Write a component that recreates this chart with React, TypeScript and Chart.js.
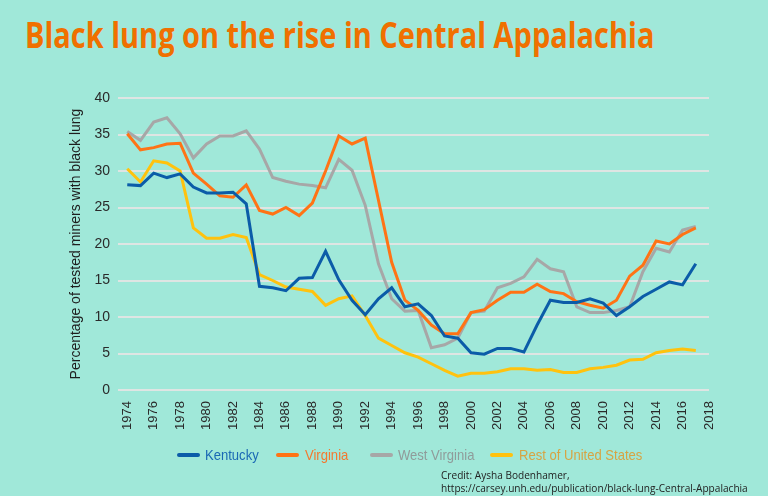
import React, { useEffect, useRef } from "react";
import { Chart, registerables } from "chart.js";

Chart.register(...registerables);

const years = [
  1974, 1975, 1976, 1977, 1978, 1979, 1980, 1981, 1982, 1983, 1984, 1985, 1986, 1987, 1988, 1989,
  1990, 1991, 1992, 1993, 1994, 1995, 1996, 1997, 1998, 1999, 2000, 2001, 2002, 2003, 2004, 2005,
  2006, 2007, 2008, 2009, 2010, 2011, 2012, 2013, 2014, 2015, 2016, 2017,
];

const kentucky = [
  28.1, 28.0, 29.7, 29.1, 29.6, 27.8, 27.0, 27.0, 27.1, 25.5, 14.2, 14.0, 13.6, 15.3, 15.4, 19.0,
  15.1, 12.3, 10.3, 12.5, 14.0, 11.4, 11.8, 10.2, 7.4, 7.1, 5.1, 4.9, 5.7, 5.7, 5.2, 8.9,
  12.3, 12.0, 12.0, 12.5, 11.9, 10.2, 11.4, 12.8, 13.8, 14.8, 14.4, 17.3,
];

const virginia = [
  35.1, 32.9, 33.2, 33.7, 33.8, 29.7, 28.2, 26.6, 26.4, 28.1, 24.6, 24.1, 25.0, 23.9, 25.6, 30.0,
  34.8, 33.7, 34.5, 26.0, 17.5, 12.3, 10.9, 8.9, 7.7, 7.7, 10.6, 11.0, 12.3, 13.4, 13.4, 14.5,
  13.5, 13.2, 12.1, 11.6, 11.2, 12.3, 15.6, 17.1, 20.4, 20.0, 21.3, 22.2,
];

const westVirginia = [
  35.4, 34.2, 36.7, 37.3, 35.1, 31.8, 33.7, 34.8, 34.8, 35.5, 33.0, 29.1, 28.6, 28.2, 28.0, 27.7,
  31.6, 30.1, 25.3, 17.3, 12.5, 10.8, 10.9, 5.8, 6.2, 7.1, 10.6, 10.8, 14.0, 14.6, 15.5, 17.9,
  16.6, 16.2, 11.4, 10.6, 10.6, 10.9, 11.4, 16.2, 19.4, 18.9, 21.9, 22.4,
];

const restOfUS = [
  30.3, 28.5, 31.4, 31.1, 30.0, 22.2, 20.8, 20.8, 21.3, 20.9, 15.8, 15.0, 14.1, 13.8, 13.5, 11.6,
  12.5, 12.9, 10.2, 7.1, 6.1, 5.1, 4.5, 3.6, 2.7, 1.9, 2.3, 2.3, 2.5, 2.9, 2.9, 2.7,
  2.8, 2.4, 2.4, 2.9, 3.1, 3.4, 4.1, 4.2, 5.1, 5.4, 5.6, 5.4,
];

const xTicks = [
  1974, 1976, 1978, 1980, 1982, 1984, 1986, 1988, 1990, 1992, 1994, 1996, 1998, 2000, 2002, 2004,
  2006, 2008, 2010, 2012, 2014, 2016, 2018,
];
const yTicks = [0, 5, 10, 15, 20, 25, 30, 35, 40];

const seriesNames = ["Kentucky", "Virginia", "West Virginia", "Rest of United States"];
const lineColors = ["#0b5ca8", "#ff7315", "#a7a7a7", "#ffc20e"];
const textColors = ["#1a68b4", "#f3782e", "#8f9c9a", "#d6a443"];

const BG = "#a0e8d9";
const FONT = "'Liberation Sans', Arial, sans-serif";

export default function App() {
  const ref = useRef<HTMLCanvasElement | null>(null);

  useEffect(() => {
    document.body.style.margin = "0";
    const canvas = ref.current;
    if (!canvas) return;
    const seriesData = [kentucky, virginia, westVirginia, restOfUS];
    const chart = new Chart(canvas, {
      type: "line",
      data: {
        datasets: seriesData.map((vals, i) => ({
          label: seriesNames[i],
          data: vals.map((v, j) => ({ x: years[j], y: v })),
          borderColor: lineColors[i],
          backgroundColor: lineColors[i],
          borderWidth: 3,
          pointRadius: 0,
          tension: 0,
          fill: false,
        })),
      },
      options: {
        animation: false,
        responsive: false,
        maintainAspectRatio: false,
        layout: { padding: { top: 98, left: 68, right: 59, bottom: 0 } },
        plugins: {
          legend: { display: false },
          tooltip: { enabled: false },
          title: { display: false },
        },
        scales: {
          x: {
            type: "linear",
            min: 1973.3,
            max: 2018,
            afterBuildTicks: (scale: any) => {
              scale.ticks = xTicks.map((v) => ({ value: v }));
            },
            afterFit: (scale: any) => {
              scale.height = 106;
            },
            grid: { display: false, drawTicks: false },
            border: { display: false },
            ticks: {
              autoSkip: false,
              maxRotation: 90,
              minRotation: 90,
              padding: 11,
              color: "#2a2a2a",
              font: { family: FONT, size: 13 },
              callback: (v: any) => String(v),
            },
          },
          y: {
            min: 0,
            max: 40,
            afterBuildTicks: (scale: any) => {
              scale.ticks = yTicks.map((v) => ({ value: v }));
            },
            afterFit: (scale: any) => {
              scale.width = 50;
            },
            grid: { color: "#dfe5e3", lineWidth: 2, drawTicks: false },
            border: { display: false },
            ticks: {
              padding: 8,
              color: "#2a2a2a",
              font: { family: FONT, size: 14 },
            },
            title: {
              display: true,
              text: "Percentage of tested miners with black lung",
              color: "#1e1e1e",
              padding: { top: 0, bottom: 0 },
              font: { family: FONT, size: 14 },
            },
          },
        },
      },
    });
    return () => chart.destroy();
  }, []);

  const legendPos = [
    { line: 177, text: 205 },
    { line: 276, text: 305 },
    { line: 370, text: 398 },
    { line: 490, text: 519 },
  ];

  return (
    <div style={{ position: "relative", width: 768, height: 496, background: BG, overflow: "hidden" }}>
      <div
        style={{
          position: "absolute",
          left: 25,
          top: 11,
          fontFamily: "'Open Sans', sans-serif",
          fontWeight: 700,
          fontSize: 36,
          color: "#f07000",
          whiteSpace: "nowrap",
          transformOrigin: "left top",
          transform: "scaleX(0.805)",
          lineHeight: "48px",
        }}
      >
        Black lung on the rise in Central Appalachia
      </div>
      <canvas ref={ref} width={768} height={496} style={{ position: "absolute", left: 0, top: 0 }} />
      {seriesNames.map((name, i) => (
        <React.Fragment key={name}>
          <div
            style={{
              position: "absolute",
              left: legendPos[i].line,
              top: 453,
              width: 23,
              height: 4,
              borderRadius: 2,
              background: lineColors[i],
            }}
          />
          <div
            style={{
              position: "absolute",
              left: legendPos[i].text,
              top: 446,
              fontFamily: FONT,
              fontSize: 15,
              lineHeight: "18px",
              color: textColors[i],
              whiteSpace: "nowrap",
              transformOrigin: "left top",
              transform: "scaleX(0.87)",
            }}
          >
            {name}
          </div>
        </React.Fragment>
      ))}
      <div
        style={{
          position: "absolute",
          left: 441,
          top: 469,
          fontFamily: "'Open Sans', sans-serif",
          fontSize: 10.1,
          lineHeight: "13px",
          color: "#222",
          whiteSpace: "nowrap",
        }}
      >
        Credit: Aysha Bodenhamer,
        <br />
        https://carsey.unh.edu/publication/black-lung-Central-Appalachia
      </div>
    </div>
  );
}
